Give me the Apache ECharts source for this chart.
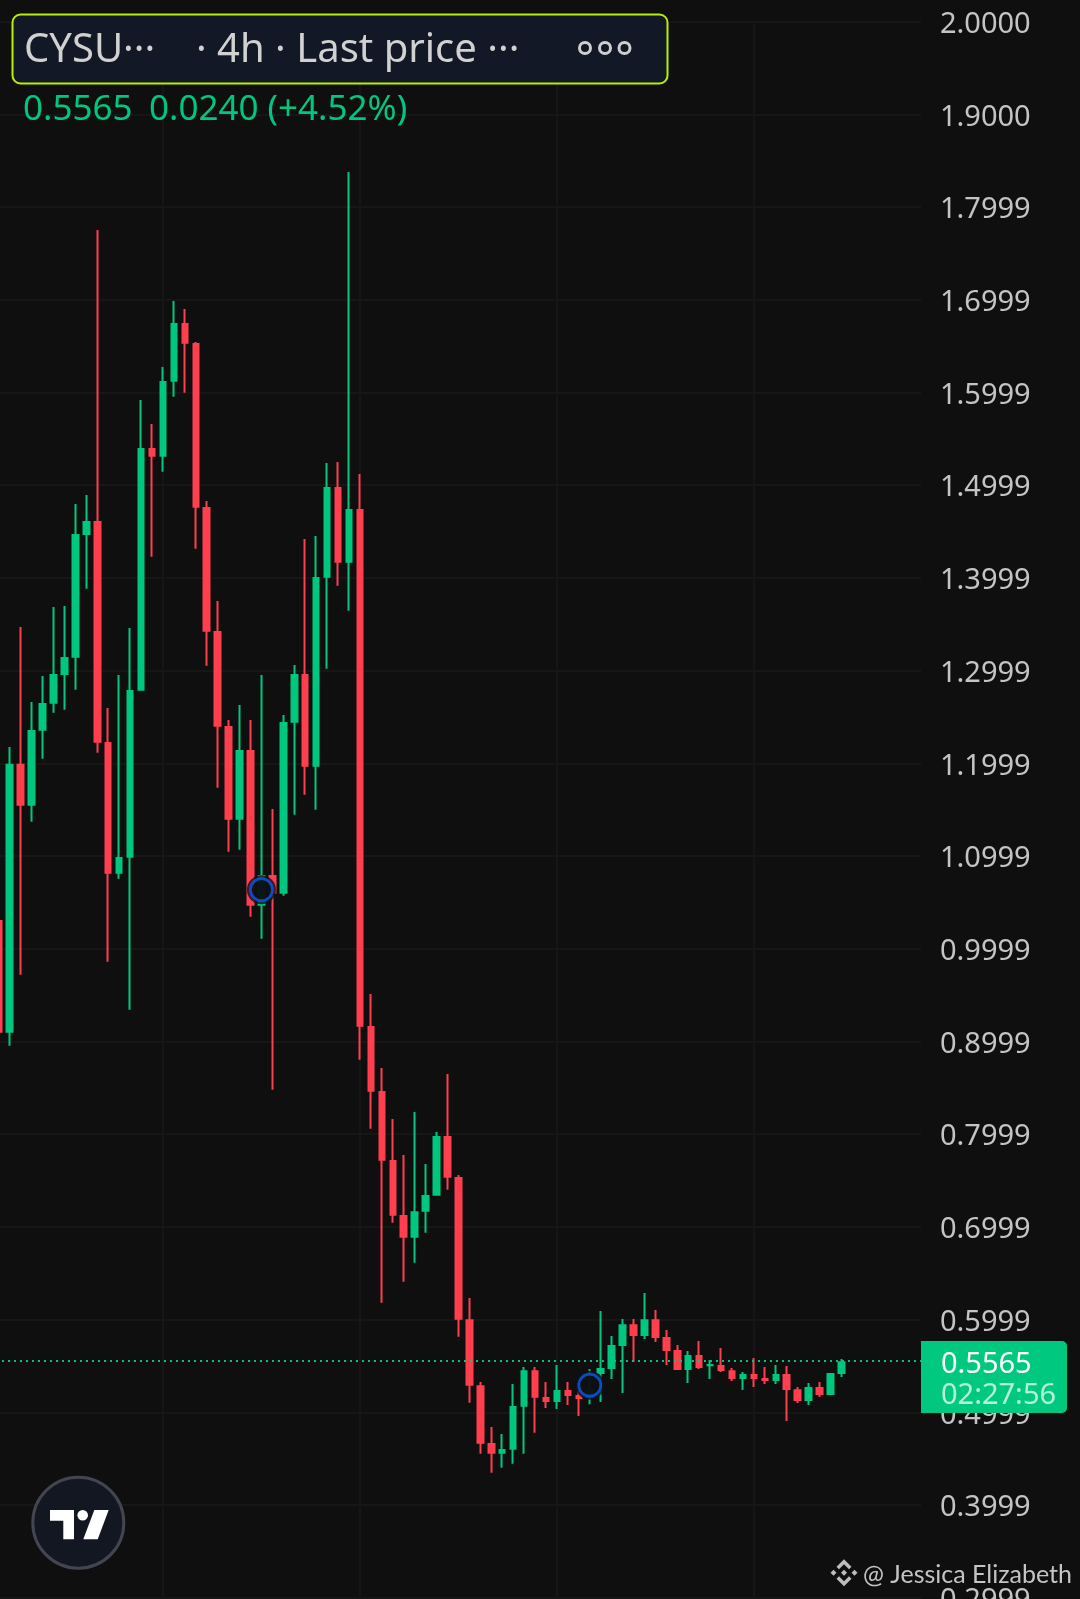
<!DOCTYPE html>
<html>
<head>
<meta charset="utf-8">
<script src="https://cdn.jsdelivr.net/npm/echarts@6/dist/echarts.min.js"></script>
<style>
html,body{margin:0;padding:0;background:#0f0f0f;}
#chart{width:1080px;height:1599px;}
</style>
</head>
<body>
<div id="chart"></div>
<script>
const slots = [3,4,5,6,7,8,9,10,11,12,13,14,15,16,17,18,19,20,21,22,23,24,25,26,27,28,29,30,31,32,33,34,35,36,37,38,39,40,41,42,43,44,45,46,47,48,49,50,51,52,53,54,55,56,57,58,59,60,61,62,63,64,65,66,67,68,69,70,71,72,73,74,75,76,77,78,79,80];
const opens = [1.0310,0.9094,1.1996,1.1543,1.2352,1.2643,1.2953,1.3139,1.4463,1.4614,1.2230,1.0809,1.0982,1.2783,1.5401,1.5307,1.6117,1.6750,1.6534,1.4765,1.3427,1.2402,1.1392,1.2144,1.0464,1.0795,1.0593,1.2438,1.2963,1.1963,1.4002,1.4981,1.4164,1.4743,0.9166,0.8465,0.7721,0.7127,0.6882,0.7163,0.7335,0.7980,0.7537,0.6005,0.5293,0.4668,0.4552,0.4595,0.5059,0.5455,0.5164,0.5110,0.5240,0.5186,0.5153,0.5412,0.5466,0.5714,0.5951,0.5822,0.6005,0.5811,0.5671,0.5455,0.5617,0.5498,0.5509,0.5455,0.5358,0.5412,0.5369,0.5337,0.5412,0.5250,0.5121,0.5272,0.5186,0.5412];
const closes = [0.9094,1.1996,1.1543,1.2359,1.2651,1.2963,1.3147,1.4474,1.4614,1.2222,1.0809,1.0989,1.2791,1.5401,1.5307,1.6124,1.6750,1.6526,1.4757,1.3420,1.2395,1.1392,1.2144,1.0464,1.0795,1.0593,1.2446,1.2963,1.1963,1.4010,1.4981,1.4164,1.4743,0.9159,0.8457,0.7713,0.7120,0.6882,0.7170,0.7343,0.7980,0.7530,0.5998,0.5286,0.4660,0.4552,0.4603,0.5067,0.5455,0.5156,0.5110,0.5240,0.5175,0.5142,0.5250,0.5477,0.5725,0.5951,0.5822,0.6005,0.5800,0.5660,0.5455,0.5617,0.5477,0.5520,0.5444,0.5358,0.5412,0.5358,0.5337,0.5412,0.5240,0.5121,0.5272,0.5186,0.5423,0.5552];
const lows = [0.8950,0.8953,0.9720,1.1370,1.2050,1.2546,1.2578,1.2794,1.3884,1.2114,0.9860,1.0755,0.9342,1.2783,1.4229,1.5146,1.5955,1.5998,1.4315,1.3053,1.1737,1.1046,1.1068,1.0345,1.0108,0.8479,1.0572,1.1445,1.1661,1.1500,1.3021,1.3916,1.3646,0.8803,0.8058,0.6181,0.7044,0.6408,0.6613,0.6936,0.7335,0.7400,0.5814,0.5102,0.4552,0.4347,0.4401,0.4444,0.4552,0.4779,0.5045,0.5035,0.5078,0.4959,0.5088,0.5110,0.5358,0.5207,0.5542,0.5790,0.5757,0.5509,0.5455,0.5315,0.5466,0.5358,0.5434,0.5337,0.5240,0.5272,0.5304,0.5304,0.4905,0.5099,0.5078,0.5164,0.5186,0.5380];
const highs = [1.0450,1.2176,1.3470,1.2661,1.2942,1.3686,1.3697,1.4797,1.4894,1.7753,1.2597,1.2953,1.3460,1.5919,1.5660,1.6275,1.6987,1.6901,1.6545,1.4830,1.3751,1.2467,1.2629,1.2467,1.2953,1.1507,1.2521,1.3060,1.4420,1.4452,1.5240,1.5250,1.8379,1.5121,0.9511,0.8713,0.8163,0.7775,0.8238,0.7677,0.8023,0.8648,0.7559,0.6232,0.5326,0.4840,0.4765,0.5304,0.5488,0.5488,0.5326,0.5509,0.5326,0.5229,0.5466,0.6092,0.5822,0.6005,0.6005,0.6286,0.6103,0.5887,0.5725,0.5660,0.5768,0.5563,0.5693,0.5477,0.5434,0.5585,0.5488,0.5509,0.5498,0.5272,0.5315,0.5326,0.5423,0.5574];
const priceTickLabels = ['2.0000','1.9000','1.7999','1.6999','1.5999','1.4999','1.3999','1.2999','1.1999','1.0999','0.9999','0.8999','0.7999','0.6999','0.5999','0.4999','0.3999','0.2999'];
const markerSlots = [27,57];
const markerPrices = [1.0637,0.5292];
const lastPriceLevel = 0.5553;
const lastPriceText = '0.5565';
const changeText = '0.0240 (+4.52%)';
const countdownText = '02:27:56';

const GREEN='#00c77f', RED='#ff3f4e', BG='#0f0f0f', GRID='#161616', TICK='#c4c4c4';
const FONT='"Noto Sans"';
// The candle outline adds half its width to each end of a body; this keeps the drawn edge where it was read.
const strokeInset = 0.0011;
const chart = echarts.init(document.getElementById('chart'), null, {renderer:'canvas', width:1080, height:1599});

function candleItem(s,i){
  const up = closes[i] > opens[i];
  let top = Math.max(opens[i],closes[i]) - strokeInset;
  let bot = Math.min(opens[i],closes[i]) + strokeInset;
  if (top - bot < 0.0002) { const m=(top+bot)/2; top=m+0.0001; bot=m-0.0001; }
  return [s, up?bot:top, up?top:bot, lows[i], highs[i]];
}
function txt(text,x,y,size,fill,extra){
  return {type:'text',z:100,style:Object.assign({text,x,y,fill,font:size+'px '+FONT,textVerticalAlign:'middle',textAlign:'left'},extra||{})};
}
function ring(cx){return {type:'circle',z:101,shape:{cx,cy:48,r:5.5},style:{fill:'transparent',stroke:'#cfcfcf',lineWidth:3}};}
function poly(points,cx,cy){return {type:'polygon',z:101,shape:{points:points.map(p=>[p[0]+cx,p[1]+cy])},style:{fill:'#bdbdbd'}};}
const bx=844, by=1572.7;

const graphics=[
  {type:'rect',z:99,shape:{x:12.5,y:14.5,width:655,height:69,r:8},style:{fill:'#131826',stroke:'#b6f000',lineWidth:2}},
  txt('CYSU···',24,50.5,40,'#d1d1d1'),
  txt('· 4h · Last price ···',196,50.5,40,'#d1d1d1'),
  ring(585),ring(605),ring(624.5),
  txt(lastPriceText,23,110,35,GREEN),
  txt(changeText,149,110,35,GREEN),
  {type:'rect',z:99,shape:{x:921,y:1341,width:146,height:72,r:[0,5,5,0]},style:{fill:'#00c97f'}},
  txt(lastPriceText,941,1365,29,'#ffffff'),
  txt(countdownText,941,1396,29,'#b5f1da'),
  {type:'circle',z:99,shape:{cx:78.3,cy:1522.7,r:45.5},style:{fill:'#131722',stroke:'#434651',lineWidth:3}},
  {type:'polygon',z:100,shape:{points:[[50,1510],[74,1510],[74,1539.3],[63.3,1539.3],[63.3,1520.7],[50,1520.7]]},style:{fill:'#ffffff'}},
  {type:'circle',z:100,shape:{cx:82.7,cy:1515.3,r:5.3},style:{fill:'#ffffff'}},
  {type:'polygon',z:100,shape:{points:[[94.3,1510],[108.7,1510],[97.7,1539.3],[83.3,1539.3]]},style:{fill:'#ffffff'}},
  poly([[0,-13.5],[7.5,-6],[5,-3.5],[0,-8.5],[-5,-3.5],[-7.5,-6]],bx,by),
  poly([[0,13.5],[7.5,6],[5,3.5],[0,8.5],[-5,3.5],[-7.5,6]],bx,by),
  poly([[-10.5,-3],[-7.5,0],[-10.5,3],[-13.5,0]],bx,by),
  poly([[10.5,-3],[13.5,0],[10.5,3],[7.5,0]],bx,by),
  poly([[0,-3],[3,0],[0,3],[-3,0]],bx,by),
  txt('@ Jessica Elizabeth',863,1575,25,TICK,{font:'25px Lato'})
];

chart.setOption({
  animation:false,
  backgroundColor:BG,
  grid:{left:-34.03,top:21.7,width:955.03,height:1576,outerBoundsMode:'none',containLabel:false},
  xAxis:{type:'value',min:0,max:87.27,interval:18,
    axisLine:{show:false},axisTick:{show:false},axisLabel:{show:false},
    splitLine:{show:true,showMinLine:false,showMaxLine:false,lineStyle:{color:GRID,width:2}}},
  yAxis:{type:'value',position:'right',min:0.3,max:2.0,interval:0.1,
    axisLine:{show:false},axisTick:{show:false},
    axisLabel:{margin:19,color:TICK,fontFamily:FONT,fontSize:29,verticalAlign:'top',lineHeight:6,
      formatter:v=>priceTickLabels[Math.round((2-v)*10)]},
    splitLine:{show:true,lineStyle:{color:GRID,width:2}}},
  series:[
    {type:'candlestick',barWidth:6,clip:false,
      encode:{x:0,y:[1,2,3,4]},
      data:slots.map(candleItem),
      itemStyle:{color:GREEN,color0:RED,borderColor:GREEN,borderColor0:RED,borderWidth:2},
      markLine:{silent:true,symbol:'none',animation:false,precision:4,label:{show:false},
        lineStyle:{color:GREEN,type:[2,4],width:2},data:[{yAxis:lastPriceLevel}]}},
    {type:'scatter',symbol:'circle',symbolSize:29,z:4,
      data:markerSlots.map((s,i)=>[s,markerPrices[i]]),
      itemStyle:{color:'#0b1220'}},
    {type:'scatter',symbol:'circle',symbolSize:22,z:5,
      data:markerSlots.map((s,i)=>[s,markerPrices[i]]),
      itemStyle:{color:BG,borderColor:'#0a5aea',borderWidth:2.7}}
  ],
  graphic:{elements:graphics}
});
</script>
</body>
</html>
